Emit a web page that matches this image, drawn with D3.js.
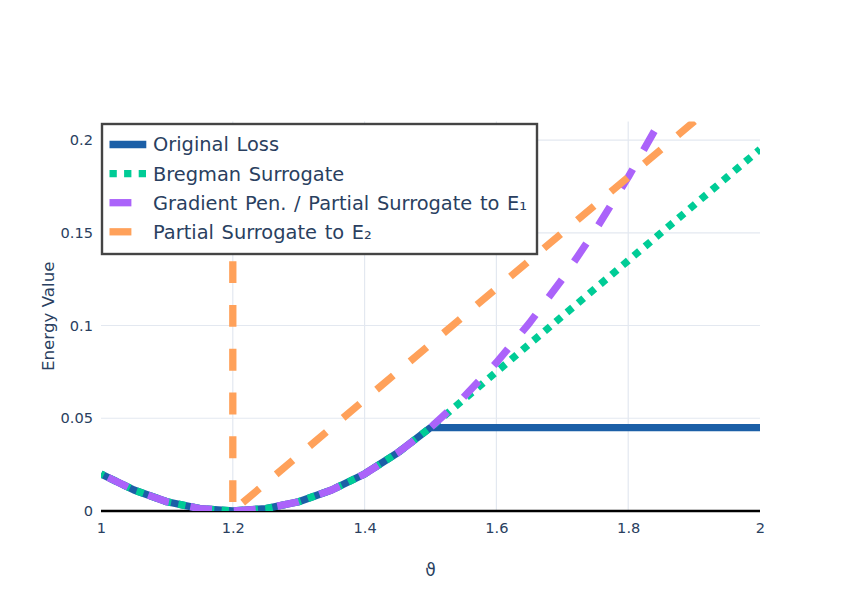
<!DOCTYPE html>
<html>
<head>
<meta charset="utf-8">
<script src="https://cdn.jsdelivr.net/npm/d3@7"></script>
<style>
  html, body { margin: 0; padding: 0; background: #fff; }
  svg { display: block; font-family: "DejaVu Sans", Verdana, sans-serif; }
</style>
</head>
<body>
<svg id="chart" width="860" height="613"></svg>
<script>
// ---- data ----
const thetaGrid = [1.00, 1.05, 1.10, 1.15, 1.20, 1.25, 1.30, 1.35, 1.40, 1.45, 1.50, 1.55, 1.60, 1.65, 1.70, 1.75, 1.80, 1.85, 1.90, 1.95, 2.00];
const originalLoss = [0.020, 0.0113, 0.005, 0.0013, 0.000, 0.0013, 0.005, 0.0113, 0.020, 0.0313, 0.045, 0.045, 0.045, 0.045, 0.045, 0.045, 0.045, 0.045, 0.045, 0.045, 0.045];
const bregmanSurrogate = [0.020, 0.0113, 0.005, 0.0013, 0.000, 0.0013, 0.005, 0.0113, 0.020, 0.0313, 0.045, 0.060, 0.075, 0.090, 0.105, 0.120, 0.135, 0.150, 0.165, 0.180, 0.195];
const gradientPenalty = [0.020, 0.0113, 0.005, 0.0013, 0.000, 0.0013, 0.005, 0.0113, 0.020, 0.0313, 0.045, 0.0613, 0.080, 0.1013, 0.125, 0.1513, 0.180, 0.2113, 0.245, 0.2813, 0.320];
const partialE2Theta = [1.20, 1.20, 1.30, 1.40, 1.50, 1.60, 1.70, 1.80, 1.90, 2.00];
const partialE2 = [0.300, 0.000, 0.030, 0.060, 0.090, 0.120, 0.150, 0.180, 0.210, 0.240];

const seriesNames = ["Original Loss", "Bregman Surrogate", "Gradient Pen. / Partial Surrogate to E\u2081", "Partial Surrogate to E\u2082"];
const xTicks = [1, 1.2, 1.4, 1.6, 1.8, 2];
const yTicks = [0, 0.05, 0.1, 0.15, 0.2];
const xTickLabels = ["1", "1.2", "1.4", "1.6", "1.8", "2"];
const yTickLabels = ["0", "0.05", "0.1", "0.15", "0.2"];
const xTitle = "\u03D1";
const yTitle = "Energy Value";

// ---- layout ----
const W = 860, H = 613;
const plot = { left: 101, right: 760, top: 121.5, bottom: 511 };
const x = d3.scaleLinear().domain([1, 2]).range([plot.left, plot.right]);
const y = d3.scaleLinear().domain([0, 0.21]).range([plot.bottom, plot.top]);
const textColor = "#2a3f5f";
const gridColor = "#e3e8f0";

const svg = d3.select("#chart");
svg.append("rect").attr("width", W).attr("height", H).attr("fill", "#fff");

svg.append("defs").append("clipPath").attr("id", "clip")
  .append("rect").attr("x", plot.left).attr("y", plot.top)
  .attr("width", plot.right - plot.left).attr("height", plot.bottom - plot.top);

// grid
const g = svg.append("g");
g.selectAll(".vg").data(xTicks.filter(t => t > 1 && t < 2)).join("line")
  .attr("x1", d => x(d)).attr("x2", d => x(d))
  .attr("y1", plot.top).attr("y2", plot.bottom)
  .attr("stroke", gridColor).attr("stroke-width", 1.2);
g.selectAll(".hg").data(yTicks.filter(t => t > 0)).join("line")
  .attr("x1", plot.left).attr("x2", plot.right)
  .attr("y1", d => y(d)).attr("y2", d => y(d))
  .attr("stroke", gridColor).attr("stroke-width", 1.2);

// axes (tick labels via d3 axes)
const xAxis = d3.axisBottom(x).tickValues(xTicks).tickFormat((d, i) => xTickLabels[i]).tickSize(0).tickPadding(12);
const yAxis = d3.axisLeft(y).tickValues(yTicks).tickFormat((d, i) => yTickLabels[i]).tickSize(0).tickPadding(8);
const gx = svg.append("g").attr("transform", `translate(0,${plot.bottom})`).call(xAxis);
const gy = svg.append("g").attr("transform", `translate(${plot.left},0)`).call(yAxis);
[gx, gy].forEach(a => {
  a.select(".domain").remove();
  a.selectAll("text").attr("fill", textColor).style("font-size", "14.6px").style("font-family", '"DejaVu Sans", Verdana, sans-serif');
});

// zero line (drawn under traces)
svg.append("line")
  .attr("x1", plot.left).attr("x2", plot.right)
  .attr("y1", y(0)).attr("y2", y(0))
  .attr("stroke", "#000").attr("stroke-width", 2.4);

// lines
const lw = 7.3, dashLen = 21.9, dotLen = 7.3;
const lines = svg.append("g").attr("clip-path", "url(#clip)");
const lineGen = d3.line().x(d => x(d[0])).y(d => y(d[1]));
const styles = [
  { color: "#1b5fa7", dash: null, offset: 0 },
  { color: "#00cc96", dash: `${dotLen},${dotLen}`, offset: 4.3 },
  { color: "#ab63fa", dash: `${dashLen},${dashLen}`, offset: 35.8 },
  { color: "#ffa15a", dash: `${dashLen},${dashLen}`, offset: 0 }
];
const seriesData = [
  thetaGrid.map((t, i) => [t, originalLoss[i]]),
  thetaGrid.map((t, i) => [t, bregmanSurrogate[i]]),
  thetaGrid.map((t, i) => [t, gradientPenalty[i]]),
  partialE2Theta.map((t, i) => [t, partialE2[i]])
];

seriesData.forEach((d, i) => {
  const p = lines.append("path").datum(d)
    .attr("d", lineGen)
    .attr("fill", "none")
    .attr("stroke", styles[i].color)
    .attr("stroke-width", lw)
    .attr("stroke-linejoin", "round");
  if (styles[i].dash) p.attr("stroke-dasharray", styles[i].dash).attr("stroke-dashoffset", styles[i].offset);
});

// axis titles
svg.append("text").attr("x", (plot.left + plot.right) / 2).attr("y", 576)
  .attr("text-anchor", "middle").attr("fill", textColor)
  .style("font-size", "17px").text(xTitle);
svg.append("text").attr("transform", `translate(54,${(plot.top + plot.bottom) / 2}) rotate(-90)`)
  .attr("text-anchor", "middle").attr("fill", textColor)
  .style("font-size", "16.7px").text(yTitle);

// legend
const leg = svg.append("g");
leg.append("rect").attr("x", 102).attr("y", 124).attr("width", 435).attr("height", 130)
  .attr("fill", "#fff").attr("stroke", "#444").attr("stroke-width", 2.4);
const legY = [144.5, 173.6, 202.7, 231.8];
seriesNames.forEach((name, i) => {
  const l = leg.append("line").attr("x1", 109.5).attr("x2", 146.3)
    .attr("y1", legY[i]).attr("y2", legY[i])
    .attr("stroke", styles[i].color).attr("stroke-width", lw);
  if (styles[i].dash) l.attr("stroke-dasharray", styles[i].dash);
  leg.append("text").attr("x", 153).attr("y", legY[i]).attr("dy", "0.36em")
    .attr("fill", textColor).style("font-size", "19.4px").style("word-spacing", "1.5px").text(name);
});
</script>
</body>
</html>
